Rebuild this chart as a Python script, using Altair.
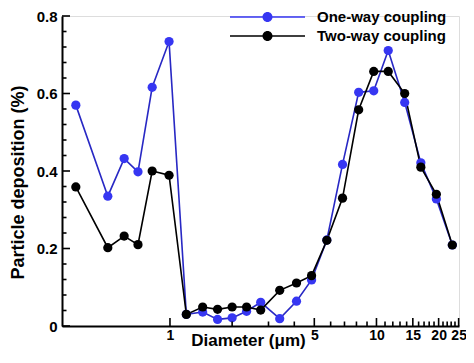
import altair as alt
import pandas as pd

# ---- data ----
diameter = [0.35, 0.5, 0.6, 0.7, 0.82, 0.99, 1.2, 1.44, 1.7, 2.0, 2.35, 2.75,
            3.4, 4.1, 4.85, 5.75, 6.85, 8.2, 9.7, 11.4, 13.7, 16.4, 19.5, 23.3]
one_way = [0.570, 0.335, 0.432, 0.398, 0.616, 0.734, 0.030, 0.036, 0.017, 0.021,
           0.038, 0.061, 0.019, 0.064, 0.119, 0.222, 0.417, 0.603, 0.607, 0.711,
           0.577, 0.421, 0.328, 0.209]
two_way = [0.359, 0.202, 0.232, 0.210, 0.400, 0.389, 0.030, 0.049, 0.043, 0.049,
           0.049, 0.041, 0.092, 0.111, 0.130, 0.221, 0.330, 0.558, 0.657, 0.657,
           0.600, 0.410, 0.340, 0.209]
series_names = ["One-way coupling", "Two-way coupling"]

x_major = [1, 5, 10, 15, 20, 25]
x_minor = [2, 3, 4, 6, 7, 8, 9, 11, 12, 13, 14, 16, 17, 18, 19, 21, 22, 23, 24]
y_major = [0, 0.2, 0.4, 0.6, 0.8]
y_minor = [0.04, 0.08, 0.12, 0.16, 0.24, 0.28, 0.32, 0.36, 0.44, 0.48, 0.52,
           0.56, 0.64, 0.68, 0.72, 0.76]

rows = []
for name, vals in zip(series_names, [one_way, two_way]):
    for d, v in zip(diameter, vals):
        rows.append({"d": d, "v": v, "series": name})
df = pd.DataFrame(rows)

FONT = "Liberation Sans"
W, H = 397, 310
MAJOR, MINOR = 8, 4.5

xscale = alt.Scale(type="log", domain=[0.3, 25.1], nice=False)
yscale = alt.Scale(domain=[0, 0.8], nice=False, zero=False)

line_colors = alt.Scale(domain=series_names, range=["#2828c4", "#000000"])
point_colors = alt.Scale(domain=series_names, range=["#3636f2", "#000000"])

legend_symbol = ("M-1,-0.02H1V0.02H-1Z "
                 "M0.1333,0A0.1333,0.1333,0,1,1,-0.1333,0"
                 "A0.1333,0.1333,0,1,1,0.1333,0Z")

AX_X = alt.Axis(
    orient="bottom", values=x_major, format="d",
    ticks=False, grid=False,
    domainColor="black", domainWidth=2,
    labelOverlap=False, labelFlush=False, labelBound=False,
    labelFont=FONT, labelFontSize=14, labelFontWeight="bold",
    labelColor="black", labelPadding=2,
    title="Diameter (μm)", titleFont=FONT, titleFontSize=17,
    titleFontWeight="bold", titleColor="black",
    titleBaseline="alphabetic", titleY=19, titleX=186)

AX_Y = alt.Axis(
    orient="left", values=y_major,
    labelExpr="datum.value == 0 ? '0' : format(datum.value, '.1f')",
    ticks=False, grid=False,
    domainColor="black", domainWidth=2,
    labelOverlap=False, labelFlush=False, labelBound=False,
    labelFont=FONT, labelFontSize=15, labelFontWeight="bold",
    labelColor="black", labelPadding=5,
    title="Particle deposition (%)", titleFont=FONT, titleFontSize=18,
    titleFontWeight="bold", titleColor="black", titlePadding=9,
    titleY=166)

lines = alt.Chart(df).mark_line(strokeWidth=1.6).encode(
    x=alt.X("d:Q", scale=xscale, axis=AX_X),
    y=alt.Y("v:Q", scale=yscale, axis=AX_Y),
    color=alt.Color("series:N", scale=line_colors, legend=None),
    detail="series:N",
)

points = alt.Chart(df).mark_circle(size=85, opacity=1).encode(
    x=alt.X("d:Q", scale=xscale, axis=AX_X),
    y=alt.Y("v:Q", scale=yscale, axis=AX_Y),
    color=alt.Color("series:N", scale=point_colors, legend=alt.Legend(
        title=None, orient="none", legendX=168, legendY=-7,
        symbolType=legend_symbol, symbolSize=5625, symbolStrokeWidth=0,
        clipHeight=16, rowPadding=3, labelOffset=12,
        labelFont=FONT, labelFontSize=15, labelFontWeight="bold",
        labelColor="black", labelLimit=300)),
)


# inward-pointing axis ticks
def x_ticks(values, length):
    return alt.Chart(pd.DataFrame({"d": values})).mark_rule(
        color="black", strokeWidth=1.6).encode(
        x=alt.X("d:Q", scale=xscale, axis=AX_X),
        y=alt.value(H), y2=alt.value(H - length))


def y_ticks(values, length):
    return alt.Chart(pd.DataFrame({"v": values})).mark_rule(
        color="black", strokeWidth=1.6).encode(
        y=alt.Y("v:Q", scale=yscale, axis=AX_Y),
        x=alt.value(0), x2=alt.value(length))


chart = alt.layer(
    lines, points,
    x_ticks(x_major, MAJOR), x_ticks(x_minor, MINOR),
    y_ticks(y_major, MAJOR), y_ticks(y_minor, MINOR),
).resolve_scale(
    color="independent"
).properties(
    width=W, height=H,
    autosize=alt.AutoSizeParams(type="none"),
    padding={"left": 54, "top": 8, "right": 7, "bottom": 23},
).configure_view(stroke=None).configure(font=FONT)

chart.save("out.html", embed_options={"renderer": "svg", "actions": False})
